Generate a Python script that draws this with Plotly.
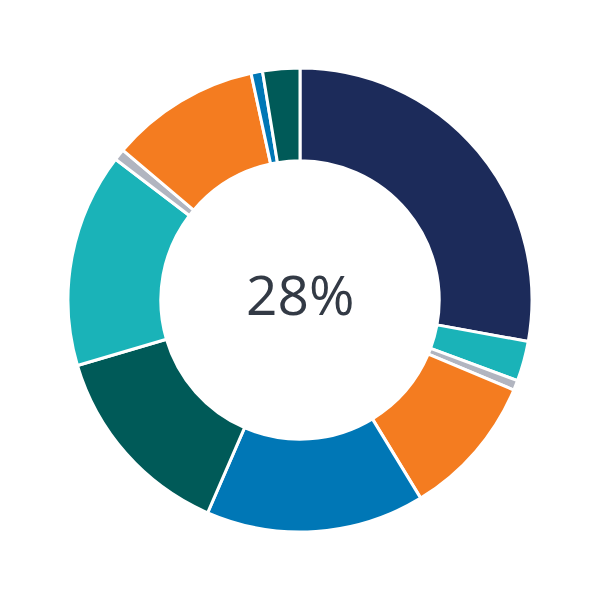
import plotly.graph_objects as go

labels = ["A", "B", "C", "D", "E", "F", "G", "H", "I", "J", "K"]
values = [28, 2.8, 0.7, 10, 15.3, 14, 15, 0.8, 10.5, 0.8, 2.6]
colors = ["#1c2b5a", "#1ab3b8", "#b1b5c0", "#f47c20", "#0077b6", "#005a58",
          "#1ab3b8", "#b1b5c0", "#f47c20", "#0077b6", "#005a58"]
center_label = "28%"

fig = go.Figure(go.Pie(
    labels=labels, values=values, hole=0.6, sort=False, direction="clockwise",
    rotation=0, textinfo="none",
    marker=dict(colors=colors, line=dict(color="white", width=3)),
    showlegend=False,
))
fig.add_annotation(text=center_label, x=0.5, y=0.5, xref="paper", yref="paper",
                   showarrow=False, yshift=7,
                   font=dict(size=55, color="#333a45", family="Open Sans"))
fig.update_layout(width=600, height=600, margin=dict(l=60, r=76, t=60, b=76),
                  paper_bgcolor="white", plot_bgcolor="white")
fig.write_html("out.html")
